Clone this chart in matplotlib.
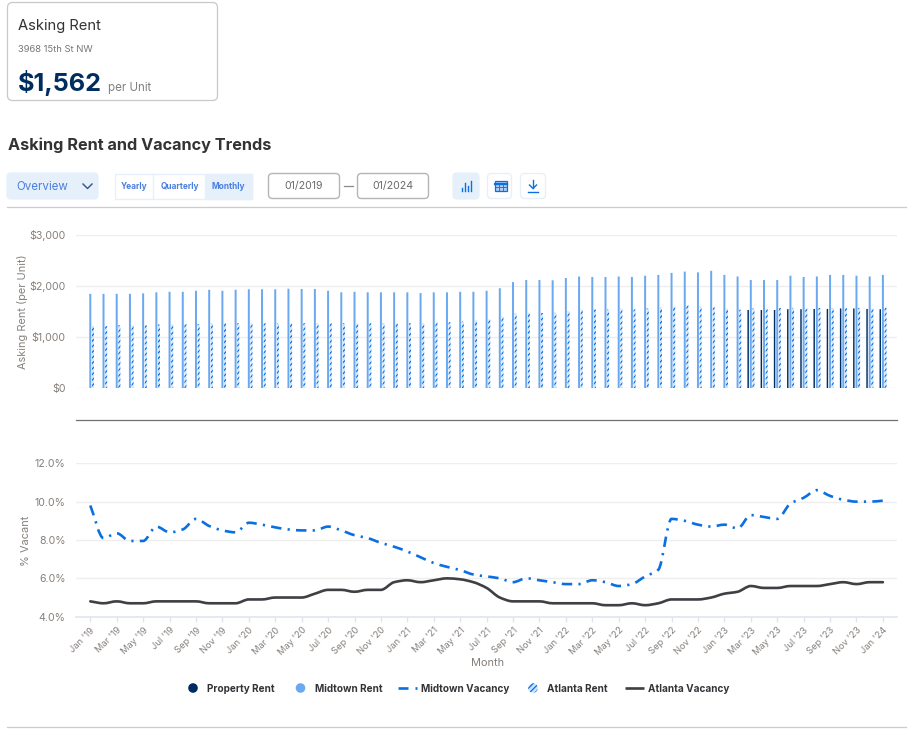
#===============================================================================
# DESCRIPTION
#    Asking rent and vacancy trends panel, monthly 01/2019 - 01/2024
#===============================================================================
import numpy as np
import matplotlib
matplotlib.use('Agg')
import matplotlib.pyplot as plt
from matplotlib.patches import FancyBboxPatch, PathPatch, Circle, Rectangle
from matplotlib.path import Path

plt.rcParams['font.family'] = ['Inter', 'DejaVu Sans']
plt.rcParams['lines.scale_dashes'] = False
plt.rcParams['hatch.linewidth'] = 0.9

#===============================================================================
# Data
#===============================================================================
tick_labels = ["Jan '19", "Mar '19", "May '19", "Jul '19", "Sep '19", "Nov '19",
               "Jan '20", "Mar '20", "May '20", "Jul '20", "Sep '20", "Nov '20",
               "Jan '21", "Mar '21", "May '21", "Jul '21", "Sep '21", "Nov '21",
               "Jan '22", "Mar '22", "May '22", "Jul '22", "Sep '22", "Nov '22",
               "Jan '23", "Mar '23", "May '23", "Jul '23", "Sep '23", "Nov '23",
               "Jan '24"]

midtown_rent = [1840, 1840, 1840, 1840, 1850, 1870, 1880, 1880, 1900, 1920, 1900, 1920,
                1930, 1930, 1930, 1940, 1935, 1935, 1900, 1870, 1880, 1870, 1870, 1870,
                1870, 1855, 1870, 1870, 1880, 1880, 1900, 1950, 2070, 2110, 2110, 2105,
                2150, 2180, 2170, 2170, 2180, 2170, 2195, 2210, 2250, 2275, 2260, 2290,
                2210, 2180, 2110, 2110, 2110, 2195, 2170, 2180, 2210, 2210, 2195, 2180,
                2210]
atlanta_rent = [1210, 1210, 1225, 1225, 1225, 1240, 1240, 1250, 1250, 1265, 1265, 1265,
                1265, 1265, 1265, 1265, 1265, 1265, 1265, 1265, 1265, 1265, 1265, 1265,
                1265, 1265, 1285, 1285, 1300, 1320, 1340, 1395, 1455, 1470, 1465, 1470,
                1500, 1535, 1535, 1535, 1550, 1535, 1555, 1575, 1595, 1615, 1590, 1575,
                1550, 1530, 1555, 1555, 1565, 1565, 1555, 1565, 1565, 1565, 1565, 1555,
                1570]
# property only reports from Mar '23 onward
property_months = [50, 51, 52, 53, 54, 55, 56, 57, 58, 59, 60]
property_rent = [1525, 1525, 1525, 1540, 1540, 1545, 1545, 1555, 1555, 1545, 1540]

midtown_vacancy = [9.8, 8.1, 8.35, 7.95, 7.95, 8.7, 8.4, 8.55, 9.1, 8.73, 8.5, 8.4,
                   8.9, 8.8, 8.66, 8.55, 8.5, 8.5, 8.7, 8.5, 8.25, 8.1, 7.85, 7.65,
                   7.4, 7.1, 6.8, 6.6, 6.43, 6.2, 6.1, 6.0, 5.8, 6.0, 5.9, 5.8,
                   5.7, 5.7, 5.9, 5.8, 5.6, 5.7, 6.1, 6.45, 9.1, 9.0, 8.8, 8.7,
                   8.8, 8.6, 9.3, 9.2, 9.1, 9.9, 10.2, 10.6, 10.3, 10.1, 10.0, 10.0,
                   10.05]
atlanta_vacancy = [4.8, 4.7, 4.8, 4.7, 4.7, 4.8, 4.8, 4.8, 4.8, 4.7, 4.7, 4.7,
                   4.9, 4.9, 5.0, 5.0, 5.0, 5.2, 5.4, 5.4, 5.3, 5.4, 5.4, 5.8,
                   5.9, 5.8, 5.9, 6.0, 5.95, 5.8, 5.5, 5.0, 4.8, 4.8, 4.8, 4.7,
                   4.7, 4.7, 4.7, 4.6, 4.6, 4.7, 4.6, 4.7, 4.9, 4.9, 4.9, 5.0,
                   5.2, 5.3, 5.6, 5.5, 5.5, 5.6, 5.6, 5.6, 5.7, 5.8, 5.7, 5.8,
                   5.8]

rent_ticks = [0, 1000, 2000, 3000]
rent_tick_labels = ['$0', '$1,000', '$2,000', '$3,000']
vacancy_ticks = [4, 6, 8, 10, 12]
vacancy_tick_labels = ['4.0%', '6.0%', '8.0%', '10.0%', '12.0%']

#===============================================================================
# Style
#===============================================================================
W, H = 913, 737
NAVY = '#002d5f'
MID_BLUE = '#6aa9f0'
VAC_BLUE = '#0a6fe0'
DARK = '#3f3f44'
TEXT = '#333338'
GREY = '#857f7a'
AXIS_BROWN = '#85807c'
GRID = '#eeeeee'
ACCENT = '#4a7fe0'
PALE = '#e6f0fb'
LEFT, RIGHT = 76, 897
PX = 13.21  # pixels per month
X0 = 90.3   # pixel of Jan '19

fig = plt.figure(figsize=(W / 100, H / 100), dpi=100)


def px_axes(left, right, top, bottom):
    return fig.add_axes([left / W, 1 - bottom / H, (right - left) / W, (bottom - top) / H])


def smooth_path(xs, ys):
    # monotone cubic through the points, same look as the web chart
    xs = np.asarray(xs, float)
    ys = np.asarray(ys, float)
    d = np.diff(ys) / np.diff(xs)
    m = np.zeros(len(ys))
    for i in range(1, len(ys) - 1):
        if d[i - 1] * d[i] > 0:
            m[i] = 2 * d[i - 1] * d[i] / (d[i - 1] + d[i])
    m[0], m[-1] = d[0], d[-1]
    verts = [(xs[0], ys[0])]
    codes = [Path.MOVETO]
    for i in range(len(ys) - 1):
        h = (xs[i + 1] - xs[i]) / 3
        verts += [(xs[i] + h, ys[i] + m[i] * h), (xs[i + 1] - h, ys[i + 1] - m[i + 1] * h),
                  (xs[i + 1], ys[i + 1])]
        codes += [Path.CURVE4] * 3
    return Path(verts, codes)


months = np.arange(len(midtown_rent))
xlim = ((LEFT - X0) / PX, (RIGHT - X0) / PX)

#-------------------------------------------------------------------------------
# Rent bars
#-------------------------------------------------------------------------------
ax1 = px_axes(LEFT, RIGHT, 234.5, 388)
# snapping off, otherwise the thin bars come out with uneven widths
ax1.bar(np.array(property_months) - 0.2, property_rent, width=0.11, color=NAVY, linewidth=0, snap=False)
ax1.bar(months, midtown_rent, width=0.15, color=MID_BLUE, linewidth=0, snap=False)
ax1.bar(months + 0.2, atlanta_rent, width=0.15, facecolor='#d5e6fb', edgecolor=VAC_BLUE,
        hatch='//////', linewidth=0, snap=False)
ax1.set_xlim(xlim)
ax1.set_ylim(0, 3000)
ax1.set_xticks([])
ax1.set_yticks(rent_ticks)
ax1.set_yticklabels(rent_tick_labels, fontsize=7.6, color=GREY)
ax1.tick_params(axis='y', length=0, pad=7.5)
ax1.grid(axis='y', color=GRID, linewidth=1.0)
ax1.set_axisbelow(True)
for s in ax1.spines.values():
    s.set_visible(False)

#-------------------------------------------------------------------------------
# Vacancy lines
#-------------------------------------------------------------------------------
ax2 = px_axes(LEFT, RIGHT, 463.3, 616.7)
ax2.add_patch(PathPatch(smooth_path(months, atlanta_vacancy), fill=False, edgecolor=DARK,
                        linewidth=1.9, capstyle='round', joinstyle='round'))
ax2.add_patch(PathPatch(smooth_path(months, midtown_vacancy), fill=False, edgecolor=VAC_BLUE,
                        linewidth=1.9, linestyle=(0, (7.5, 4.5, 1.6, 4.5)), capstyle='butt'))
ax2.set_xlim(xlim)
ax2.set_ylim(4, 12)
ax2.set_xticks(months[::2])
ax2.set_xticklabels(tick_labels, rotation=45, ha='right', va='top', rotation_mode='anchor',
                    fontsize=6.7, color=GREY)
ax2.tick_params(axis='x', length=3.5, width=1.0, color='#dfe5f0', pad=3)
ax2.set_yticks(vacancy_ticks)
ax2.set_yticklabels(vacancy_tick_labels, fontsize=7.6, color=GREY)
ax2.tick_params(axis='y', length=0, pad=7.5)
ax2.grid(axis='y', color=GRID, linewidth=1.0)
ax2.set_axisbelow(True)
for s in ['top', 'left', 'right']:
    ax2.spines[s].set_visible(False)
ax2.spines['bottom'].set_color('#dfe5f0')
ax2.spines['bottom'].set_linewidth(1.2)

#-------------------------------------------------------------------------------
# Page furniture, in pixel coordinates
#-------------------------------------------------------------------------------
ui = fig.add_axes([0, 0, 1, 1], zorder=5)
ui.set_xlim(0, W)
ui.set_ylim(H, 0)
ui.axis('off')


def box(x0, y0, x1, y1, face='white', edge='#bdbdbd', lw=0.9, r=4):
    ui.add_patch(FancyBboxPatch((x0 + r, y0 + r), x1 - x0 - 2 * r, y1 - y0 - 2 * r,
                                boxstyle='round,pad=%g,rounding_size=%g' % (r, r),
                                facecolor=face, edgecolor=edge, linewidth=lw))


def label(x, y, s, size, color=TEXT, weight='normal', ha='left', **kw):
    ui.text(x, y + 0.8, s, fontsize=size, color=color, fontweight=weight, ha=ha, va='center', **kw)


# summary card
box(7.5, 2.5, 217.5, 100.5, edge='#c8c8c8', r=5)
label(18, 25, 'Asking Rent', 10.6, color='#333333')
label(18, 49, '3968 15th St NW', 6.8, color='#777777')
label(18, 82, '$1,562', 18.2, color=NAVY, weight='bold')
label(108, 87, 'per Unit', 8.3, color='#808080')

label(7.5, 144, 'Asking Rent and Vacancy Trends', 11.7, color='#333333', weight='bold')

# controls row
box(7, 173, 98, 199, face=PALE, edge=PALE)
label(16, 186, 'Overview', 8.3, color=ACCENT)
ui.plot([83, 87.5, 92], [184, 188.5, 184], color='#33508a', linewidth=1.0)

ui.add_patch(Rectangle((114.5, 173.5), 137, 25, facecolor='white', edgecolor=PALE, linewidth=1.0))
ui.add_patch(Rectangle((205, 173.5), 46.5, 25, facecolor=PALE, edgecolor=PALE, linewidth=1.0))
ui.plot([153, 153], [173.5, 198.5], color=PALE, linewidth=1.0)
label(134, 186, 'Yearly', 6.0, color=ACCENT, weight='bold', ha='center')
label(179.5, 186, 'Quarterly', 6.0, color=ACCENT, weight='bold', ha='center')
label(228.5, 186, 'Monthly', 6.0, color=ACCENT, weight='bold', ha='center')

box(268.5, 173.5, 339.5, 198.5, edge='#b5b5b5', lw=1.0)
box(357.5, 173.5, 428.5, 198.5, edge='#b5b5b5', lw=1.0)
label(304, 185.5, '01/2019', 7.6, color='#6a6a6a', ha='center')
label(393, 185.5, '01/2024', 7.6, color='#6a6a6a', ha='center')
ui.plot([344, 352.5], [186, 186], color='#8a8a8a', linewidth=0.9)

box(453, 173, 479, 199, face=PALE, edge=PALE)
box(487.5, 173.5, 511.5, 198.5, edge=PALE, lw=1.0)
box(520.5, 173.5, 545.5, 198.5, edge=PALE, lw=1.0)
# bar icon
for x, top in zip([461.5, 464.5, 467.5, 470.5], [188, 183, 186, 181]):
    ui.plot([x, x], [191, top], color=VAC_BLUE, linewidth=1.0)
# table icon
ui.add_patch(Rectangle((494.5, 181), 12, 10, facecolor='#a9cdf6', edgecolor=VAC_BLUE, linewidth=0.9))
ui.plot([494.5, 506.5], [183.5, 183.5], color=VAC_BLUE, linewidth=1.6)
ui.plot([494.5, 506.5], [187, 187], color=VAC_BLUE, linewidth=0.6)
ui.plot([498.5, 498.5], [183, 191], color=VAC_BLUE, linewidth=0.6)
ui.plot([502.5, 502.5], [183, 191], color=VAC_BLUE, linewidth=0.6)
# download icon
ui.plot([533, 533], [180, 188], color=VAC_BLUE, linewidth=1.0)
ui.plot([529.5, 533, 536.5], [185, 188.5, 185], color=VAC_BLUE, linewidth=1.0)
ui.plot([528, 538], [191.5, 191.5], color=VAC_BLUE, linewidth=1.0)

# rules
ui.plot([7, 906], [207, 207], color='#cccccc', linewidth=0.9)
ui.plot([LEFT, RIGHT], [420, 420], color='#707070', linewidth=0.9)
ui.plot([7, 906], [727, 727], color='#cccccc', linewidth=0.9)

# axis titles
label(22.5, 311, 'Asking Rent (per Unit)', 7.9, color=AXIS_BROWN, ha='center', rotation=90)
label(26, 540, '% Vacant', 7.9, color=AXIS_BROWN, ha='center', rotation=90)
label(487.5, 662, 'Month', 7.9, color=GREY, ha='center')

# legend
LEG_Y = 688
ui.add_patch(Circle((193, LEG_Y), 4.8, facecolor=NAVY, edgecolor='none'))
label(207, LEG_Y, 'Property Rent', 7.2, weight='bold')
ui.add_patch(Circle((300.5, LEG_Y), 4.8, facecolor=MID_BLUE, edgecolor='none'))
label(315, LEG_Y, 'Midtown Rent', 7.2, weight='bold')
ui.plot([398, 408], [LEG_Y, LEG_Y], color=VAC_BLUE, linewidth=1.9, solid_capstyle='butt')
ui.plot([415, 417], [LEG_Y, LEG_Y], color=VAC_BLUE, linewidth=1.9, solid_capstyle='butt')
label(421, LEG_Y, 'Midtown Vacancy', 7.2, weight='bold')
ui.add_patch(Circle((533, LEG_Y), 4.8, facecolor='#cfe2fa', edgecolor=VAC_BLUE, hatch='//////', linewidth=0))
label(547, LEG_Y, 'Atlanta Rent', 7.2, weight='bold')
ui.plot([625, 644], [LEG_Y, LEG_Y], color=DARK, linewidth=1.9, solid_capstyle='butt')
label(648, LEG_Y, 'Atlanta Vacancy', 7.2, weight='bold')

fig.savefig('out.png', dpi=100)
